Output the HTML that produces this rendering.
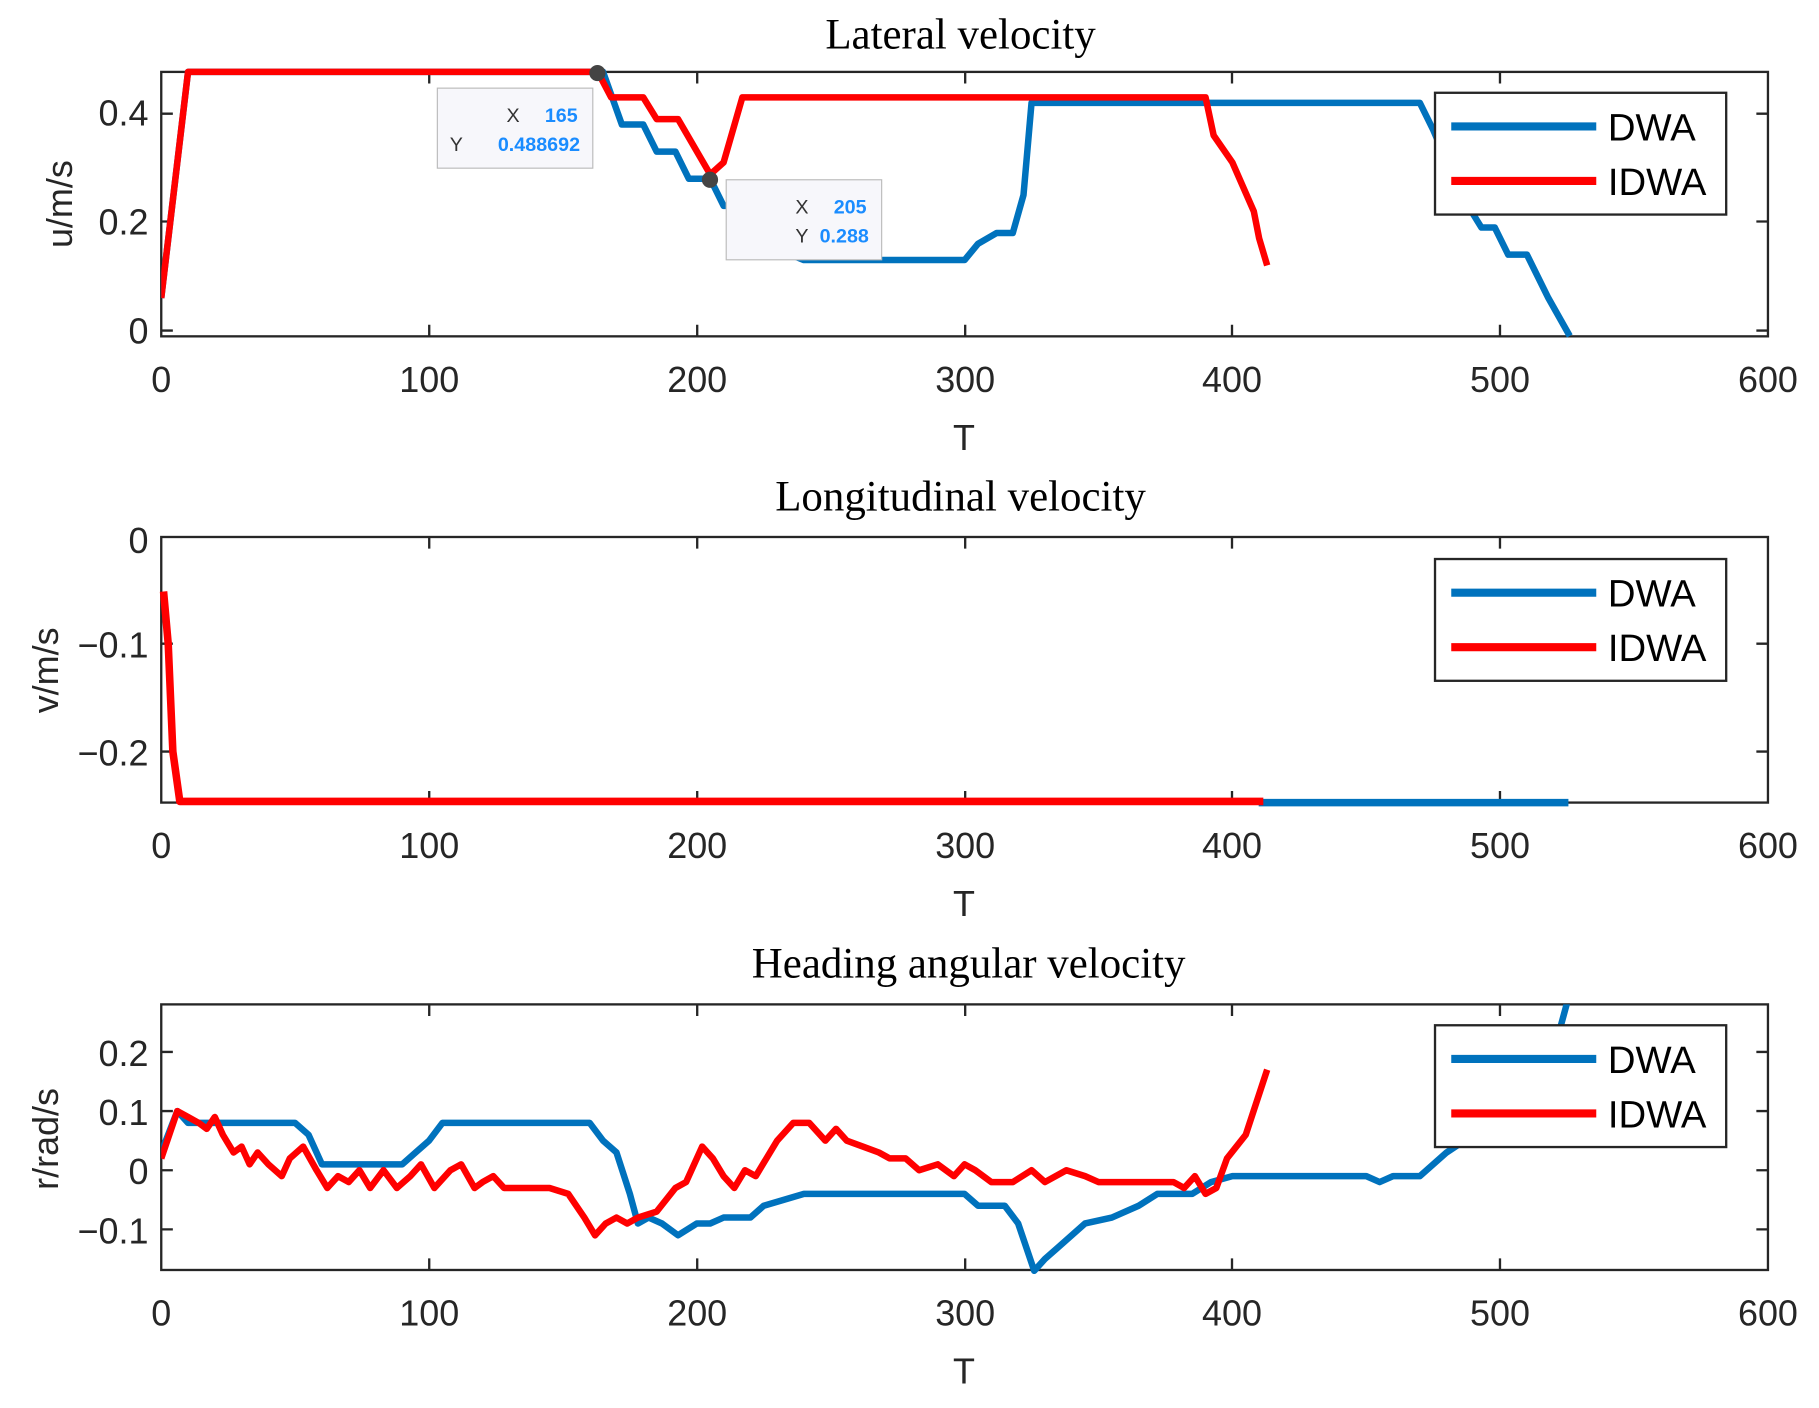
<!DOCTYPE html>
<html><head><meta charset="utf-8"><style>
html,body{margin:0;padding:0;background:#fff}
svg{display:block}
.tl{font-family:"Liberation Sans",sans-serif;font-size:31px;fill:#262626}
.ti{font-family:"Liberation Serif",serif;font-size:37px;fill:#000}
.lg{font-family:"Liberation Sans",sans-serif;font-size:33px;fill:#000}
.ax{fill:none;stroke:#262626;stroke-width:2}
.b{fill:none;stroke:#0072BD;stroke-width:6.5;stroke-linejoin:round}
.r{fill:none;stroke:#FF0000;stroke-width:6.5;stroke-linejoin:round}
</style></head><body>
<svg width="1819" height="1408" viewBox="0 0 1568 1214" preserveAspectRatio="none" xmlns="http://www.w3.org/2000/svg">
<defs>
<clipPath id="c1"><rect x="139" y="55" width="1390" height="245"/></clipPath>
<clipPath id="c3"><rect x="139" y="866" width="1385" height="240"/></clipPath>
</defs>

<!-- Plot 1 -->
<text class="ti" x="828" y="42" text-anchor="middle">Lateral velocity</text>
<rect class="ax" x="139" y="62" width="1385" height="228"/>
<g stroke="#262626" stroke-width="2">
<path d="M370 62v10M601 62v10M832 62v10M1062 62v10M1293 62v10M370 290v-10M601 290v-10M832 290v-10M1062 290v-10M1293 290v-10M139 98h10M139 191h10M139 285h10M1524 98h-10M1524 191h-10M1524 285h-10"/>
</g>
<g class="tl" text-anchor="end"><text x="128" y="108">0.4</text><text x="128" y="202">0.2</text><text x="128" y="296">0</text></g>
<g class="tl" text-anchor="middle"><text x="139" y="338">0</text><text x="370" y="338">100</text><text x="601" y="338">200</text><text x="832" y="338">300</text><text x="1062" y="338">400</text><text x="1293" y="338">500</text><text x="1524" y="338">600</text><text x="831" y="388">T</text></g>
<text class="tl" transform="translate(62,176) rotate(-90)" text-anchor="middle">u/m/s</text>
<g clip-path="url(#c1)">
<g transform="matrix(2.3083,0,0,-467.5,139,285)">
<polyline vector-effect="non-scaling-stroke" class="b" points="0,0.06 10,0.477 165,0.477 172,0.38 180,0.38 185,0.33 192,0.33 197,0.28 205,0.28 210,0.23 215,0.23 220,0.17 240,0.13 300,0.13 305,0.16 312,0.18 318,0.18 322,0.25 325,0.42 470,0.42 475,0.37 482,0.29 488,0.23 493,0.19 498,0.19 503,0.14 510,0.14 518,0.06 526,-0.01"/>
<polyline vector-effect="non-scaling-stroke" class="r" points="0,0.06 10,0.477 163,0.477 168,0.43 180,0.43 185,0.39 193,0.39 205,0.288 210,0.31 217,0.43 390,0.43 393,0.36 400,0.31 408,0.22 410,0.17 413,0.12"/>
</g></g>
<circle cx="515" cy="63" r="7" fill="#444"/>
<circle cx="612" cy="155" r="7" fill="#444"/>
<rect x="377" y="76" width="134" height="69" fill="#f7f7fb" stroke="#bbb" stroke-width="1"/>
<text x="448" y="105" font-family="Liberation Sans,sans-serif" font-size="17" fill="#333" text-anchor="end">X</text>
<text x="498" y="105" font-family="Liberation Sans,sans-serif" font-size="17" font-weight="bold" fill="#1a8cff" text-anchor="end">165</text>
<text x="399" y="130" font-family="Liberation Sans,sans-serif" font-size="17" fill="#333" text-anchor="end">Y</text>
<text x="500" y="130" font-family="Liberation Sans,sans-serif" font-size="17" font-weight="bold" fill="#1a8cff" text-anchor="end">0.488692</text>
<rect x="626" y="155" width="134" height="69" fill="#f7f7fb" stroke="#bbb" stroke-width="1"/>
<text x="697" y="184" font-family="Liberation Sans,sans-serif" font-size="17" fill="#333" text-anchor="end">X</text>
<text x="747" y="184" font-family="Liberation Sans,sans-serif" font-size="17" font-weight="bold" fill="#1a8cff" text-anchor="end">205</text>
<text x="697" y="209" font-family="Liberation Sans,sans-serif" font-size="17" fill="#333" text-anchor="end">Y</text>
<text x="749" y="209" font-family="Liberation Sans,sans-serif" font-size="17" font-weight="bold" fill="#1a8cff" text-anchor="end">0.288</text>
<rect x="1237" y="80" width="251" height="105" fill="#fff" stroke="#262626" stroke-width="2"/>
<path d="M1251 109h125" stroke="#0072BD" stroke-width="7"/>
<path d="M1251 156h125" stroke="#FF0000" stroke-width="7"/>
<text class="lg" x="1386" y="121">DWA</text><text class="lg" x="1386" y="168">IDWA</text>

<!-- Plot 2 -->
<text class="ti" x="828" y="440" text-anchor="middle">Longitudinal velocity</text>
<rect class="ax" x="139" y="463" width="1385" height="229"/>
<g stroke="#262626" stroke-width="2">
<path d="M370 463v10M601 463v10M832 463v10M1062 463v10M1293 463v10M370 692v-10M601 692v-10M832 692v-10M1062 692v-10M1293 692v-10M139 555h10M139 648h10M1524 555h-10M1524 648h-10"/>
</g>
<g class="tl" text-anchor="end"><text x="128" y="477">0</text><text x="128" y="567">−0.1</text><text x="128" y="660">−0.2</text></g>
<g class="tl" text-anchor="middle"><text x="139" y="740">0</text><text x="370" y="740">100</text><text x="601" y="740">200</text><text x="832" y="740">300</text><text x="1062" y="740">400</text><text x="1293" y="740">500</text><text x="1524" y="740">600</text><text x="831" y="790">T</text></g>
<text class="tl" transform="translate(50,578) rotate(-90)" text-anchor="middle">v/m/s</text>
<path class="b" d="M1085 692H1352"/>
<path class="r" d="M141 510L145 555L149 648L155 691H1089"/>
<rect x="1237" y="482" width="251" height="105" fill="#fff" stroke="#262626" stroke-width="2"/>
<path d="M1251 511h125" stroke="#0072BD" stroke-width="7"/>
<path d="M1251 558h125" stroke="#FF0000" stroke-width="7"/>
<text class="lg" x="1386" y="523">DWA</text><text class="lg" x="1386" y="570">IDWA</text>

<!-- Plot 3 -->
<text class="ti" x="835" y="843" text-anchor="middle">Heading angular velocity</text>
<rect class="ax" x="139" y="866" width="1385" height="229"/>
<g stroke="#262626" stroke-width="2">
<path d="M370 866v10M601 866v10M832 866v10M1062 866v10M1293 866v10M370 1095v-10M601 1095v-10M832 1095v-10M1062 1095v-10M1293 1095v-10M139 907h10M139 958h10M139 1009h10M139 1060h10M1524 907h-10M1524 958h-10M1524 1009h-10M1524 1060h-10"/>
</g>
<g class="tl" text-anchor="end"><text x="128" y="919">0.2</text><text x="128" y="970">0.1</text><text x="128" y="1021">0</text><text x="128" y="1072">−0.1</text></g>
<g class="tl" text-anchor="middle"><text x="139" y="1143">0</text><text x="370" y="1143">100</text><text x="601" y="1143">200</text><text x="832" y="1143">300</text><text x="1062" y="1143">400</text><text x="1293" y="1143">500</text><text x="1524" y="1143">600</text><text x="831" y="1193">T</text></g>
<text class="tl" transform="translate(50,982) rotate(-90)" text-anchor="middle">r/rad/s</text>
<g clip-path="url(#c3)">
<g transform="matrix(2.3083,0,0,-510,139,1009)">
<polyline vector-effect="non-scaling-stroke" class="b" points="0,0.03 6,0.1 10,0.08 50,0.08 55,0.06 60,0.01 90,0.01 95,0.03 100,0.05 105,0.08 160,0.08 165,0.05 170,0.03 175,-0.04 178,-0.09 182,-0.08 187,-0.09 193,-0.11 200,-0.09 205,-0.09 210,-0.08 220,-0.08 225,-0.06 240,-0.04 300,-0.04 305,-0.06 315,-0.06 320,-0.09 326,-0.17 330,-0.15 335,-0.13 345,-0.09 355,-0.08 365,-0.06 372,-0.04 385,-0.04 392,-0.02 400,-0.01 410,-0.01 420,-0.01 450,-0.01 455,-0.02 460,-0.01 470,-0.01 480,0.03 490,0.06 510,0.12 520,0.2 526,0.3"/>
<polyline vector-effect="non-scaling-stroke" class="r" points="0,0.02 6,0.1 10,0.09 14,0.08 17,0.07 20,0.09 23,0.06 27,0.03 30,0.04 33,0.01 36,0.03 40,0.01 45,-0.01 48,0.02 53,0.04 58,0 62,-0.03 66,-0.01 70,-0.02 74,0 78,-0.03 83,0 88,-0.03 93,-0.01 97,0.01 102,-0.03 108,0 112,0.01 117,-0.03 120,-0.02 124,-0.01 128,-0.03 145,-0.03 152,-0.04 158,-0.08 162,-0.11 166,-0.09 170,-0.08 174,-0.09 178,-0.08 185,-0.07 192,-0.03 196,-0.02 202,0.04 206,0.02 210,-0.01 214,-0.03 218,0 222,-0.01 230,0.05 236,0.08 242,0.08 248,0.05 252,0.07 256,0.05 262,0.04 268,0.03 272,0.02 278,0.02 283,0 290,0.01 296,-0.01 300,0.01 304,0 310,-0.02 318,-0.02 325,0 330,-0.02 338,0 345,-0.01 350,-0.02 378,-0.02 382,-0.03 386,-0.01 390,-0.04 394,-0.03 398,0.02 405,0.06 413,0.17"/>
</g></g>
<rect x="1237" y="884" width="251" height="105" fill="#fff" stroke="#262626" stroke-width="2"/>
<path d="M1251 913h125" stroke="#0072BD" stroke-width="7"/>
<path d="M1251 960h125" stroke="#FF0000" stroke-width="7"/>
<text class="lg" x="1386" y="925">DWA</text><text class="lg" x="1386" y="972">IDWA</text>
</svg>
</body></html>
